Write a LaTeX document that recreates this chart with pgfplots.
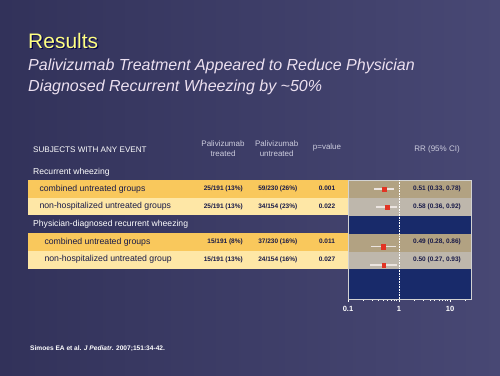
\documentclass[border=0pt]{standalone}
\usepackage{pgfplots}
\pgfplotsset{compat=1.18}
\usepackage{fontspec}
\setmainfont{Liberation Sans}
\definecolor{bgL}{RGB}{50,50,90}
\definecolor{bgR}{RGB}{72,72,116}
\definecolor{bandA}{RGB}{249,200,92}
\definecolor{bandB}{RGB}{254,231,166}
\definecolor{axA}{RGB}{178,162,130}
\definecolor{axB}{RGB}{190,183,172}
\definecolor{navyrow}{RGB}{24,42,106}
\definecolor{navytxt}{RGB}{24,26,72}
\definecolor{ttl}{RGB}{255,255,130}
\definecolor{sub}{RGB}{236,224,240}
\definecolor{hdr}{RGB}{205,205,222}
\definecolor{sq}{RGB}{226,52,36}
\definecolor{ci}{RGB}{235,228,224}
\pgfplotstableread{
rr lo hi y
0.51 0.33 0.78 -9
0.58 0.36 0.92 -27
0.49 0.28 0.86 -66.5
0.50 0.27 0.93 -85
}\rrdata
\begin{document}
\begin{tikzpicture}[x=1pt,y=1pt]
\useasboundingbox (0,0) rectangle (500,375);
\shade[left color=bgL, right color=bgR] (0,0) rectangle (500,375);
% table bands
\fill[bandA] (28,375-180) rectangle (348,375-198);
\fill[bandB] (28,375-198) rectangle (348,375-215);
\fill[bandA] (28,375-233) rectangle (348,375-251);
\fill[bandB] (28,375-251) rectangle (348,375-269);
% forest-plot row backgrounds
\fill[axA] (348,375-180) rectangle (471,375-198);
\fill[axB] (348,375-198) rectangle (471,375-216);
\fill[navyrow] (348,375-216) rectangle (471,375-234);
\fill[axA] (348,375-234) rectangle (471,375-252);
\fill[axB] (348,375-252) rectangle (471,375-269);
\fill[navyrow] (348,375-269) rectangle (471,375-299);
\begin{axis}[
  at={(348pt,76pt)}, anchor=south west,
  scale only axis, width=123pt, height=119pt,
  xmode=log, xmin=0.1, xmax=25.7, ymin=-119, ymax=0,
  axis line style={draw=gray!35!white, line width=0.6pt},
  ytick=\empty, xtick={0.1,1,10}, xticklabels={0.1,1,10},
  minor xtick={0.2,0.3,0.4,0.5,0.6,0.7,0.8,0.9,2,3,4,5,6,7,8,9,20},
  xtick pos=left, tick align=outside,
  major tick length=3pt, minor tick length=2pt,
  every tick/.style={white, line width=0.5pt},
  ticklabel style={font=\bfseries\fontsize{7.5}{8}\selectfont, text=white},
  xticklabel style={yshift=-0.5pt},
  axis background/.style={fill=none},
  clip=false,
]
\addplot[white, densely dotted, line width=0.6pt] coordinates {(1,0) (1,-119)};
\addplot[ci, line width=1.6pt] coordinates {(0.33,-9) (0.78,-9)};
\addplot[ci, line width=1.6pt] coordinates {(0.36,-27) (0.92,-27)};
\addplot[ci, line width=1.6pt] coordinates {(0.28,-66.5) (0.86,-66.5)};
\addplot[ci, line width=1.6pt] coordinates {(0.27,-85) (0.93,-85)};
\addplot[only marks, mark=square*, mark size=2.3pt, mark options={fill=sq, draw=sq, xscale=0.8}] table[x=rr, y=y] {\rrdata};
\end{axis}
% titles
\node[anchor=base west, inner sep=0, font=\fontsize{21}{24}\selectfont, text=black!70!blue] at (29.2,375-49.5) {Results};
\node[anchor=base west, inner sep=0, font=\fontsize{21}{24}\selectfont, text=ttl] at (28,375-48.3) {Results};
\node[anchor=base west, inner sep=0, font=\itshape\fontsize{16}{18}\selectfont, text=sub] at (28,375-70.7) {Palivizumab Treatment Appeared to Reduce Physician};
\node[anchor=base west, inner sep=0, font=\itshape\fontsize{16}{18}\selectfont, text=sub] at (28,375-91.7) {Diagnosed Recurrent Wheezing by \textasciitilde50\%};
% headers
\node[anchor=base west, inner sep=0, font=\fontsize{8.1}{10}\selectfont, text=white] at (33,375-152.7) {SUBJECTS WITH ANY EVENT};
\node[anchor=base, inner sep=0, font=\fontsize{8}{9}\selectfont, text=hdr] at (223,375-146.7) {Palivizumab};
\node[anchor=base, inner sep=0, font=\fontsize{8}{9}\selectfont, text=hdr] at (223,375-156.7) {treated};
\node[anchor=base, inner sep=0, font=\fontsize{8}{9}\selectfont, text=hdr] at (276.7,375-146.7) {Palivizumab};
\node[anchor=base, inner sep=0, font=\fontsize{8}{9}\selectfont, text=hdr] at (276.7,375-156.7) {untreated};
\node[anchor=base, inner sep=0, font=\fontsize{8}{9}\selectfont, text=hdr] at (327,375-150) {p=value};
\node[anchor=base, inner sep=0, font=\fontsize{8}{9}\selectfont, text=hdr] at (437,375-151.7) {RR (95\% CI)};
% section labels
\node[anchor=base west, inner sep=0, font=\fontsize{8.6}{10}\selectfont, text=white] at (33,375-174.3) {Recurrent wheezing};
\node[anchor=base west, inner sep=0, font=\fontsize{8.6}{10}\selectfont, text=white] at (33,375-226.7) {Physician-diagnosed recurrent wheezing};
% row labels
\node[anchor=base west, inner sep=0, font=\fontsize{8.7}{10}\selectfont, text=navytxt] at (39.3,375-191.7) {combined untreated groups};
\node[anchor=base west, inner sep=0, font=\fontsize{8.7}{10}\selectfont, text=navytxt] at (39.3,375-208.3) {non-hospitalized untreated groups};
\node[anchor=base west, inner sep=0, font=\fontsize{8.7}{10}\selectfont, text=navytxt] at (44.3,375-244.3) {combined untreated groups};
\node[anchor=base west, inner sep=0, font=\fontsize{8.7}{10}\selectfont, text=navytxt] at (44.3,375-261.7) {non-hospitalized untreated group};
% values
\tikzset{val/.style={inner sep=0, font=\bfseries\fontsize{6.5}{8}\selectfont, text=navytxt}}
\node[val, anchor=base east] at (243,375-191) {25/191 (13\%)};
\node[val, anchor=base east] at (243,375-208.3) {25/191 (13\%)};
\node[val, anchor=base east] at (243,375-243.7) {15/191 (8\%)};
\node[val, anchor=base east] at (243,375-261.3) {15/191 (13\%)};
\node[val, anchor=base east] at (297.5,375-191) {59/230 (26\%)};
\node[val, anchor=base east] at (297.5,375-208.3) {34/154 (23\%)};
\node[val, anchor=base east] at (297.5,375-243.7) {37/230 (16\%)};
\node[val, anchor=base east] at (297.5,375-261.3) {24/154 (16\%)};
\node[val, anchor=base] at (327,375-191) {0.001};
\node[val, anchor=base] at (327,375-208.3) {0.022};
\node[val, anchor=base] at (327,375-243.7) {0.011};
\node[val, anchor=base] at (327,375-261.3) {0.027};
\node[val, anchor=base] at (437,375-191) {0.51 (0.33, 0.78)};
\node[val, anchor=base] at (437,375-208.7) {0.58 (0.36, 0.92)};
\node[val, anchor=base] at (437,375-243.3) {0.49 (0.28, 0.86)};
\node[val, anchor=base] at (437,375-261.3) {0.50 (0.27, 0.93)};
% footnote
\node[anchor=base west, inner sep=0, font=\bfseries\fontsize{6.6}{8}\selectfont, text=white] at (30,375-350) {Simoes EA et al. \textit{J Pediatr}. 2007;151:34-42.};
\end{tikzpicture}
\end{document}
